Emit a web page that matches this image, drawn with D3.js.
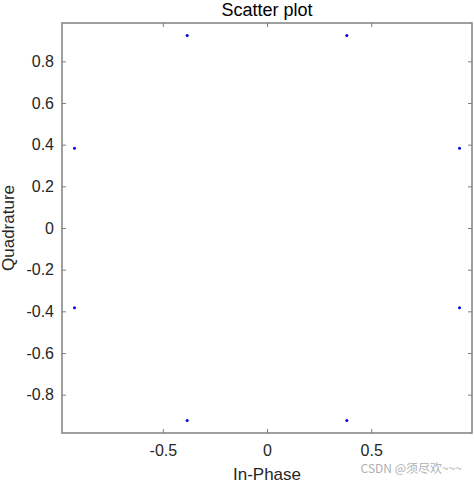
<!DOCTYPE html>
<html>
<head>
  <script src="https://d3js.org/d3.v7.min.js"></script>
  <style>
    body { margin: 0; background: #fff; font-family: Arial, 'Liberation Sans', sans-serif; }
    svg { display: block; }
  </style>
</head>
<body>
  <svg width="474" height="484"></svg>
<script>
  // 8-PSK constellation points
  var inPhase = [0.924, 0.383, -0.383, -0.924, -0.924, -0.383, 0.383, 0.924];
  var quadrature = [0.383, 0.924, 0.924, 0.383, -0.383, -0.924, -0.924, -0.383];
  var xTicks = [-0.5, 0, 0.5];
  var yTicks = [-0.8, -0.6, -0.4, -0.2, 0, 0.2, 0.4, 0.6, 0.8];
  var lim = 0.984;

  var svg = d3.select("svg"),
    padL = 62, padT = 23, padR = 472, padB = 433;

  var x = d3.scaleLinear().domain([-lim, lim]).range([padL, padR]);
  var y = d3.scaleLinear().domain([-lim, lim]).range([padB, padT]);
  var fmt = function (d) { return String(d); };

  var g = svg.append("g");

  // box
  g.append("rect")
    .attr("x", padL).attr("y", padT)
    .attr("width", padR - padL).attr("height", padB - padT)
    .attr("fill", "none").attr("stroke", "#808080").attr("stroke-width", 1.5);

  var axisColor = "#808080";
  function styleAxis(sel) {
    sel.select(".domain").remove();
    sel.selectAll(".tick line").attr("stroke", axisColor);
    sel.selectAll(".tick text").attr("fill", "#262626").attr("font-size", 16)
      .attr("font-family", "Arial, 'Liberation Sans', sans-serif");
  }

  g.append("g").attr("transform", "translate(0," + padB + ")")
    .call(d3.axisBottom(x).tickValues(xTicks).tickSizeInner(-4).tickSizeOuter(0).tickPadding(12).tickFormat(fmt))
    .call(styleAxis);
  g.append("g").attr("transform", "translate(0," + padT + ")")
    .call(d3.axisTop(x).tickValues(xTicks).tickSizeInner(-4).tickSizeOuter(0).tickFormat(""))
    .call(styleAxis);
  g.append("g").attr("transform", "translate(" + padL + ",0)")
    .call(d3.axisLeft(y).tickValues(yTicks).tickSizeInner(-4).tickSizeOuter(0).tickPadding(8).tickFormat(fmt))
    .call(styleAxis);
  g.append("g").attr("transform", "translate(" + padR + ",0)")
    .call(d3.axisRight(y).tickValues(yTicks).tickSizeInner(-4).tickSizeOuter(0).tickFormat(""))
    .call(styleAxis);

  // points
  g.append("g").selectAll("circle")
    .data(inPhase)
    .enter().append("circle")
    .attr("cx", function (d) { return x(d); })
    .attr("cy", function (d, i) { return y(quadrature[i]); })
    .attr("r", 1.5)
    .attr("fill", "#0000e0");

  // labels
  svg.append("text").attr("x", (padL + padR) / 2).attr("y", 16)
    .attr("text-anchor", "middle").attr("font-size", 18).attr("fill", "#000")
    .text("Scatter plot");
  svg.append("text").attr("x", (padL + padR) / 2).attr("y", 480)
    .attr("text-anchor", "middle").attr("font-size", 17).attr("fill", "#262626")
    .text("In-Phase");
  svg.append("text")
    .attr("transform", "translate(14," + ((padT + padB) / 2) + ") rotate(-90)")
    .attr("text-anchor", "middle").attr("font-size", 17).attr("fill", "#262626")
    .text("Quadrature");

  // watermark
  svg.append("text").attr("x", 462).attr("y", 473)
    .attr("text-anchor", "end").attr("font-size", 12).attr("fill", "#b0b0b0")
    .attr("font-family", "'Noto Sans CJK SC', sans-serif")
    .text("CSDN @须尽欢~~~");
</script>
</body>
</html>
